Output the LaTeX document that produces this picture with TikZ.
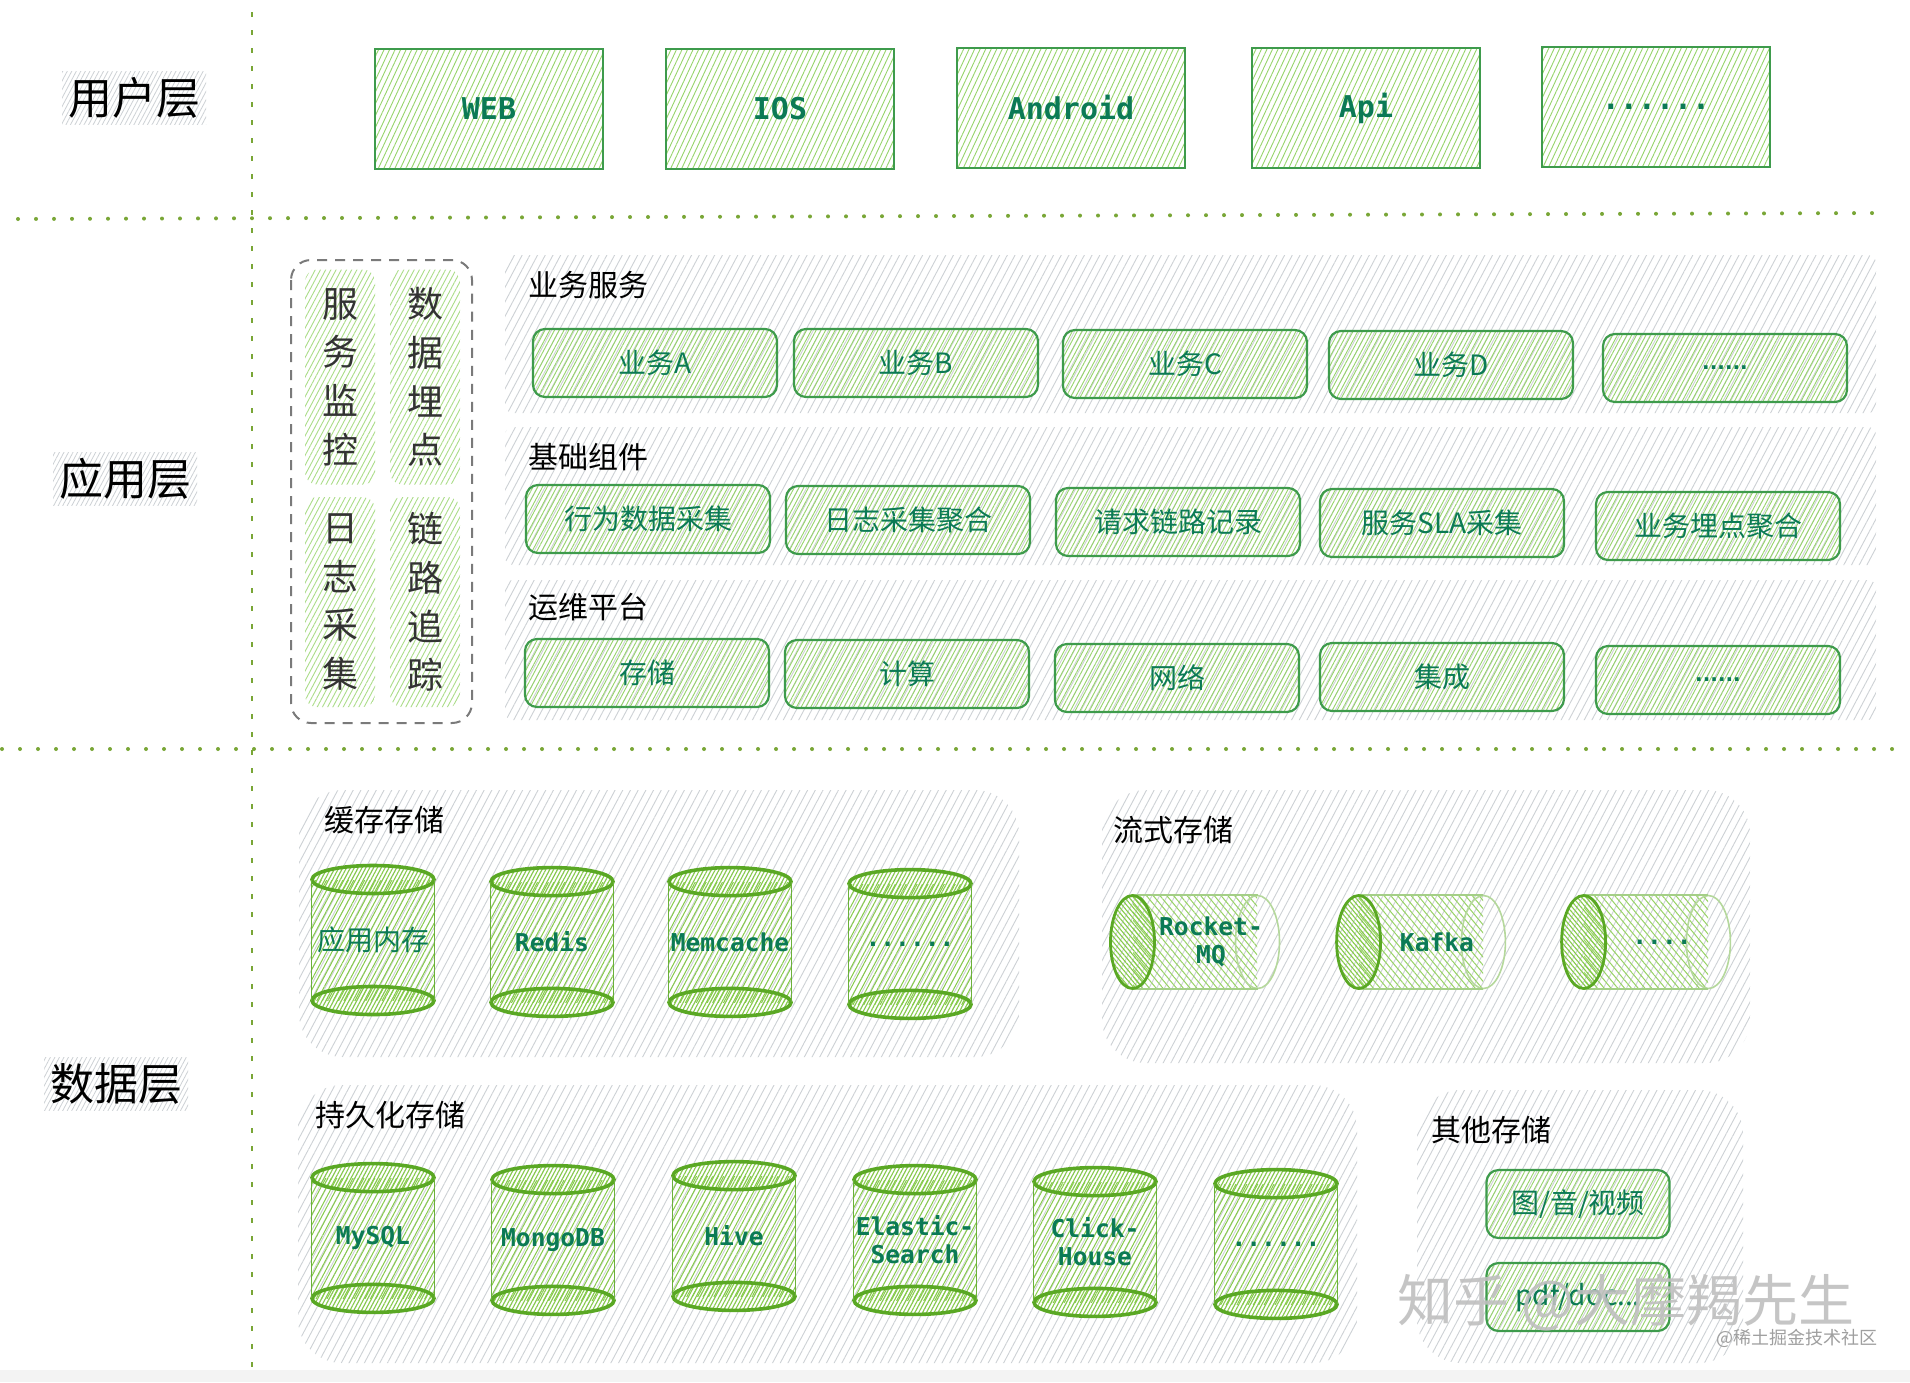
\documentclass[tikz,border=0pt]{standalone}
\usepackage{fontspec}
\setmainfont{DejaVu Sans}
\newfontfamily\cjk{Noto Sans CJK SC}
\newfontfamily\monofnt{DejaVu Sans Mono}
\usetikzlibrary{patterns.meta}
\definecolor{gstroke}{HTML}{3E9B4C}
\definecolor{ghatch}{HTML}{96D46A}
\definecolor{gtext}{HTML}{0B7A55}
\definecolor{lstroke}{HTML}{5AA824}
\definecolor{lhatch}{HTML}{86CB4A}
\definecolor{phatch}{HTML}{CDD1D5}
\definecolor{dgray}{HTML}{7A7A7A}
\definecolor{dotgreen}{HTML}{79A636}
\definecolor{bandgray}{HTML}{F3F3F3}
\tikzset{
  panel/.style={pattern={Lines[angle=62,distance=3.4pt,line width=0.45pt]}, pattern color=phatch, rounded corners=#1},
  panel/.default=4pt,
  dotline/.style={draw=dotgreen, line width=2pt, line cap=round, dash pattern=on 0pt off 9pt},
  vdash/.style={draw=dotgreen, line width=1.1pt, dash pattern=on 2.5pt off 6.5pt},
  layer/.style={font=\cjk\fontsize{22}{26}\selectfont, text=black, inner sep=3pt,
    pattern={Lines[angle=62,distance=2pt,line width=0.4pt]}, pattern color=phatch},
  title/.style={anchor=west, font=\cjk\fontsize{15}{18}\selectfont, text=black, inner sep=0pt},
  ubox/.style={draw=gstroke, line width=1pt, pattern={Lines[angle=65,distance=2.5pt,line width=0.45pt]},
    pattern color=ghatch, minimum width=114pt, minimum height=60pt, inner sep=0pt, text=gtext,
    font=\monofnt\bfseries\fontsize{15}{17}\selectfont},
  abox/.style={draw=gstroke, line width=1.1pt, rounded corners=6pt,
    pattern={Lines[angle=62,distance=2.1pt,line width=0.45pt]}, pattern color=ghatch,
    minimum width=122pt, minimum height=34pt, inner sep=0pt, text=gtext,
    font=\cjk\fontsize{14}{16}\selectfont},
  colbox/.style={rounded corners=6pt, pattern={Lines[angle=62,distance=2.3pt,line width=0.45pt]},
    pattern color=ghatch!80, minimum width=35pt, inner sep=0pt, align=center, text=black!80,
    font=\cjk\fontsize{18}{24.3}\selectfont},
  dbox/.style={draw=dgray, line width=1pt, dash pattern=on 5pt off 4pt, rounded corners=10pt},
  cylbody/.style={pattern={Lines[angle=62,distance=2.4pt,line width=0.5pt]}, pattern color=lhatch,
    minimum width=61pt, minimum height=60pt, inner sep=0pt, text=gtext, align=center,
    font=\monofnt\bfseries\fontsize{12.3}{14}\selectfont},
  cylcap/.style={draw=lstroke, line width=1.8pt, pattern={Lines[angle=62,distance=1.7pt,line width=0.55pt]},
    pattern color=lhatch},
  cylside/.style={draw=lstroke!90, line width=0.8pt},
  hbody/.style={pattern={Lines[angle=-50,distance=2.6pt,line width=0.5pt]}, pattern color=lhatch!85,
    minimum width=62pt, minimum height=46.5pt, inner sep=0pt},
  hcap/.style={draw=lstroke, line width=1.4pt, pattern={Lines[angle=-50,distance=1.7pt,line width=0.55pt]},
    pattern color=lhatch},
  ctext/.style={text=gtext, align=center, inner sep=0pt, font=\monofnt\bfseries\fontsize{12.3}{14}\selectfont},
}
\newcommand{\VCyl}[4]{%
  \node[cylbody] (#1) at (#2,#3) {#4};
  \draw[cylcap] (#1.south) ellipse [x radius=30.5pt, y radius=7pt];
  \draw[cylcap] (#1.north) ellipse [x radius=30.5pt, y radius=7pt];
  \draw[cylside] (#1.north west) -- (#1.south west);
  \draw[cylside] (#1.north east) -- (#1.south east);
}
\newcommand{\HCyl}[4]{%
  \node[hbody] (#1) at (#2+62,#3) {};
  \draw[draw=lstroke!45, line width=0.8pt] (#1.east) ellipse [x radius=11pt, y radius=23.25pt];
  \draw[draw=lstroke!55, line width=0.8pt] (#1.north west) -- (#1.north east);
  \draw[draw=lstroke!55, line width=0.8pt] (#1.south west) -- (#1.south east);
  \draw[hcap] (#1.west) ellipse [x radius=11pt, y radius=23.25pt];
  \node[ctext, xshift=8pt] (#1-t) at (#1.center) {#4};
}
\begin{document}
\begin{tikzpicture}[x=0.5pt,y=-0.5pt]
\useasboundingbox (0,0) rectangle (1910,1382);
\fill[white] (0,0) rectangle (1910,1382);
\fill[bandgray] (0,1370) rectangle (1910,1382);

% ---------- separators
\coordinate (h1a) at (18,219); \coordinate (h1b) at (1888,213);
\coordinate (h2a) at (2,749); \coordinate (h2b) at (1905,749);
\coordinate (v1a) at (252,12); \coordinate (v1b) at (252,1372);
\draw[dotline] (h1a) -- (h1b);
\draw[dotline] (h2a) -- (h2b);
\draw[vdash] (v1a) -- (v1b);

% ---------- layer labels
\node[layer] (lu) at (134,98) {用户层};
\node[layer] (la) at (125,479) {应用层};
\node[layer] (ld) at (116,1084) {数据层};

% ---------- user layer
\node[ubox] (web) at (489,109) {WEB};
\node[ubox] (ios) at (780,109) {IOS};
\node[ubox] (android) at (1071,108) {Android};
\node[ubox] (api) at (1366,108) {Api};
\node[ubox] (umore) at (1656,107) {......};

% ---------- application layer panels
\path[panel=4pt] (505,255) rectangle (1876,413);
\path[panel=4pt] (505,427) rectangle (1876,565);
\path[panel=4pt] (505,580) rectangle (1876,720);
\node[title] (t1) at (528,285) {业务服务};
\node[title] (t2) at (528,457) {基础组件};
\node[title] (t3) at (528,607) {运维平台};

\node[abox] (ba) at (655,363) {业务A};
\node[abox] (bb) at (916,363) {业务B};
\node[abox] (bc) at (1185,364) {业务C};
\node[abox] (bd) at (1451,365) {业务D};
\node[abox, font=\bfseries\fontsize{10}{12}\selectfont] (be) at (1725,368) {......};

\node[abox] (ca) at (648,519) {行为数据采集};
\node[abox] (cb) at (908,520) {日志采集聚合};
\node[abox] (cc) at (1178,522) {请求链路记录};
\node[abox] (cd) at (1442,523) {服务SLA采集};
\node[abox] (ce) at (1718,526) {业务埋点聚合};

\node[abox] (oa) at (647,673) {存储};
\node[abox] (ob) at (907,674) {计算};
\node[abox] (oc) at (1177,678) {网络};
\node[abox] (od) at (1442,677) {集成};
\node[abox, font=\bfseries\fontsize{10}{12}\selectfont] (oe) at (1718,680) {......};

% side columns
\node[colbox, minimum height=107.5pt] (m1) at (340,377) {服\\务\\监\\控};
\node[colbox, minimum height=107.5pt] (m2) at (425,377) {数\\据\\埋\\点};
\node[colbox, minimum height=105pt] (m3) at (340,602) {日\\志\\采\\集};
\node[colbox, minimum height=105pt] (m4) at (425,602) {链\\路\\追\\踪};
\draw[dbox] (291,260) rectangle (472,723);

% ---------- data layer panels
\path[panel=22pt] (299,790) rectangle (1019,1057);
\path[panel=22pt] (1102,790) rectangle (1750,1063);
\path[panel=22pt] (298,1085) rectangle (1357,1363);
\path[panel=22pt] (1417,1090) rectangle (1743,1363);
\node[title] (t4) at (324,820) {缓存存储};
\node[title] (t5) at (1113,830) {流式存储};
\node[title] (t6) at (315,1115) {持久化存储};
\node[title] (t7) at (1431,1130) {其他存储};

\VCyl{c1}{373}{940}{\cjk\mdseries\fontsize{14}{16}\selectfont 应用内存}
\VCyl{c2}{552}{942}{Redis}
\VCyl{c3}{730}{942}{Memcache}
\VCyl{c4}{910}{944}{......}

\HCyl{s1}{1133}{942}{Rocket-\\MQ}
\HCyl{s2}{1359}{942}{Kafka}
\HCyl{s3}{1584}{942}{....}

\VCyl{p1}{373}{1238}{MySQL}
\VCyl{p2}{553}{1240}{MongoDB}
\VCyl{p3}{734}{1236}{Hive}
\VCyl{p4}{915}{1240}{Elastic-\\Search}
\VCyl{p5}{1095}{1242}{Click-\\House}
\VCyl{p6}{1276}{1244}{......}

\node[abox, minimum width=91.5pt] (x1) at (1578,1204) {图/音/视频};
\node[abox, minimum width=91.5pt] (x2) at (1578,1297) {pdf/doc...};

% ---------- watermark
\node[text=gray!50, opacity=0.9, font=\cjk\fontsize{28}{30}\selectfont, inner sep=0pt] (wm1) at (1626,1303) {知乎 @大摩羯先生};
\node[text=gray!75, font=\cjk\fontsize{9}{10}\selectfont, inner sep=0pt] (wm2) at (1797,1338) {@稀土掘金技术社区};
\end{tikzpicture}
\end{document}
